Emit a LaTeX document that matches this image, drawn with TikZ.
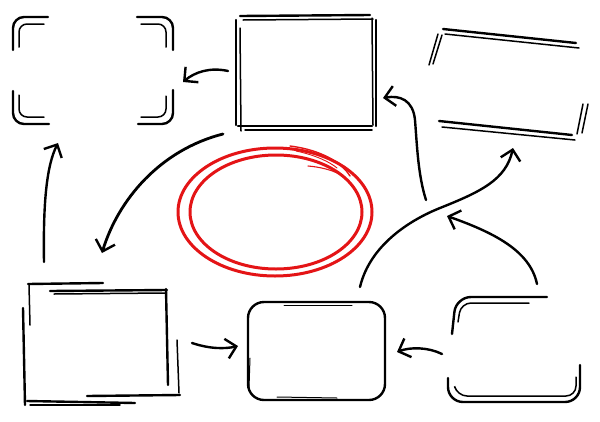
\documentclass[tikz,border=0pt]{standalone}
\usetikzlibrary{arrows.meta}
\definecolor{sketchred}{RGB}{228,20,22}
\begin{document}
\begin{tikzpicture}[x=1pt,y=-1pt,
  pen/.style={line width=2.4pt, line cap=round, black},
  finepen/.style={line width=1.5pt, line cap=round, black},
  conn/.style={line width=2.4pt, line cap=round, black,
    -{Straight Barb[length=10pt,width=20pt,line width=2.4pt]}},
  ring/.style={draw=sketchred, line width=3pt},
  area/.style={draw=none, inner sep=0pt}]
\useasboundingbox[fill=white] (0,0) rectangle (600,421);

% invisible named areas of the boxes
\node[area, minimum width=160pt, minimum height=107pt] (tl) at (93,70) {};
\node[area, minimum width=140pt, minimum height=115pt] (tc) at (306,73) {};
\node[area, minimum width=150pt, minimum height=110pt] (tr) at (508,87) {};
\node[area, minimum width=157pt, minimum height=120pt] (bl) at (101,343) {};
\node[area, minimum width=137pt, minimum height=98pt] (bc) at (316,351) {};
\node[area, minimum width=132pt, minimum height=105pt] (br) at (514,350) {};
\node[area, minimum width=194pt, minimum height=128pt] (ov) at (275,212) {};

% ---- top-left bracket box
\draw[pen, rounded corners=11] (13,50) -- (13,17) -- (48,17);
\draw[finepen, rounded corners=8] (19,47) -- (19,24) -- (44,24);
\draw[pen, rounded corners=11] (137,17) -- (173,17) -- (173,50);
\draw[finepen, rounded corners=8] (141,24) -- (166,24) -- (166,47);
\draw[pen, rounded corners=11] (13,91) -- (13,124) -- (49,124);
\draw[finepen, rounded corners=8] (19,95) -- (19,117) -- (44,117);
\draw[pen, rounded corners=11] (173,90) -- (173,124) -- (138,124);
\draw[finepen, rounded corners=8] (166,96) -- (166,117) -- (141,117);

% ---- top-center box
\draw[pen] (240,16) -- (370,15);
\draw[finepen] (243,20) -- (373,19);
\draw[pen] (236,20) -- (236,125);
\draw[finepen] (240,28) -- (241,131);
\draw[finepen] (372,18) -- (373,125);
\draw[pen] (376,20) -- (376,126);
\draw[pen] (238,126) -- (372,126);
\draw[finepen] (245,130) -- (372,130);

% ---- top-right tilted box
\draw[pen] (443,29) -- (576,43);
\draw[finepen] (445,34) -- (579,48);
\draw[finepen] (429,65) -- (438,34);
\draw[finepen] (433,64) -- (442,35);
\draw[pen] (439,121) -- (572,135);
\draw[finepen] (442,127) -- (575,140);
\draw[finepen] (583,104) -- (577,134);
\draw[finepen] (588,104) -- (582,133);

% ---- bottom-left box
\draw[pen] (28,284) -- (103,283);
\draw[pen] (50,291) -- (167,290);
\draw[finepen] (54,294) -- (165,293);
\draw[finepen] (29,285) -- (30,325);
\draw[pen] (23,308) -- (25,405);
\draw[pen] (166,289) -- (168,385);
\draw[finepen] (177,340) -- (179,393);
\draw[pen] (87,396) -- (180,395);
\draw[pen] (27,401) -- (135,403);
\draw[finepen] (30,405) -- (120,405);

% ---- bottom-center rounded box
\draw[pen, rounded corners=16] (248,302) rectangle (385,400);
\draw[finepen, line width=1pt] (284,305) -- (352,305);
\draw[finepen, line width=1pt] (277,397) -- (337,398);
\draw[finepen, line width=1pt] (250,358) -- (249,388);

% ---- bottom-right box
\draw[pen, rounded corners=15] (452,334) -- (456,297) -- (547,297);
\draw[finepen, rounded corners=10] (458,322) -- (461,303) -- (529,303);
\draw[pen, rounded corners=15] (448,378) -- (448,402) -- (580,402) -- (580,365);
\draw[finepen, rounded corners=10] (455,388) -- (457,396) -- (576,396) -- (576,377);

% ---- red ellipse
\draw[ring] (ov.center) ellipse [x radius=97, y radius=64];
\draw[ring] ([xshift=1pt]ov.center) ellipse [x radius=86, y radius=57];
\draw[sketchred, line width=1.4pt, line cap=round] (290,146) .. controls (322,150) and (342,163) .. (350,176);
\draw[sketchred, line width=1.1pt, line cap=round] (308,166) .. controls (320,167) and (332,170) .. (339,174);
\draw[sketchred, line width=0.9pt, line cap=round] (296,151) .. controls (315,155) and (330,162) .. (337,168);

% ---- connectors
\coordinate (a1s) at (228,71);  \coordinate (a1e) at (183,82);
\coordinate (a2s) at (44,262);  \coordinate (a2e) at (58,143);
\coordinate (a3s) at (223,134); \coordinate (a3e) at (102,253);
\coordinate (a4s) at (426,200); \coordinate (a4m) at (415,120); \coordinate (a4e) at (383,98);
\coordinate (a5s) at (360,287); \coordinate (a5m) at (440,208); \coordinate (a5e) at (513,148);
\coordinate (a6s) at (537,284); \coordinate (a6e) at (447,216);
\coordinate (a7s) at (192,343); \coordinate (a7e) at (238,346);
\coordinate (a8s) at (442,354); \coordinate (a8e) at (397,352);

\draw[conn] (a1s) .. controls (210,67) and (195,72) .. (a1e);
\draw[conn] (a2s) .. controls (43,200) and (47,165) .. (a2e);
\draw[conn, line width=2.8pt] (a3s) .. controls (160,150) and (118,200) .. (a3e);
\draw[conn] (a4s) .. controls (418,175) and (417,145) .. (a4m) .. controls (413,100) and (400,95) .. (a4e);
\draw[conn] (a5s) .. controls (370,245) and (410,220) .. (a5m) .. controls (480,192) and (506,180) .. (a5e);
\draw[conn] (a6s) .. controls (530,250) and (492,232) .. (a6e);
\draw[conn] (a7s) .. controls (210,349) and (225,349) .. (a7e);
\draw[conn] (a8s) .. controls (428,347) and (410,347) .. (a8e);
\end{tikzpicture}
\end{document}
